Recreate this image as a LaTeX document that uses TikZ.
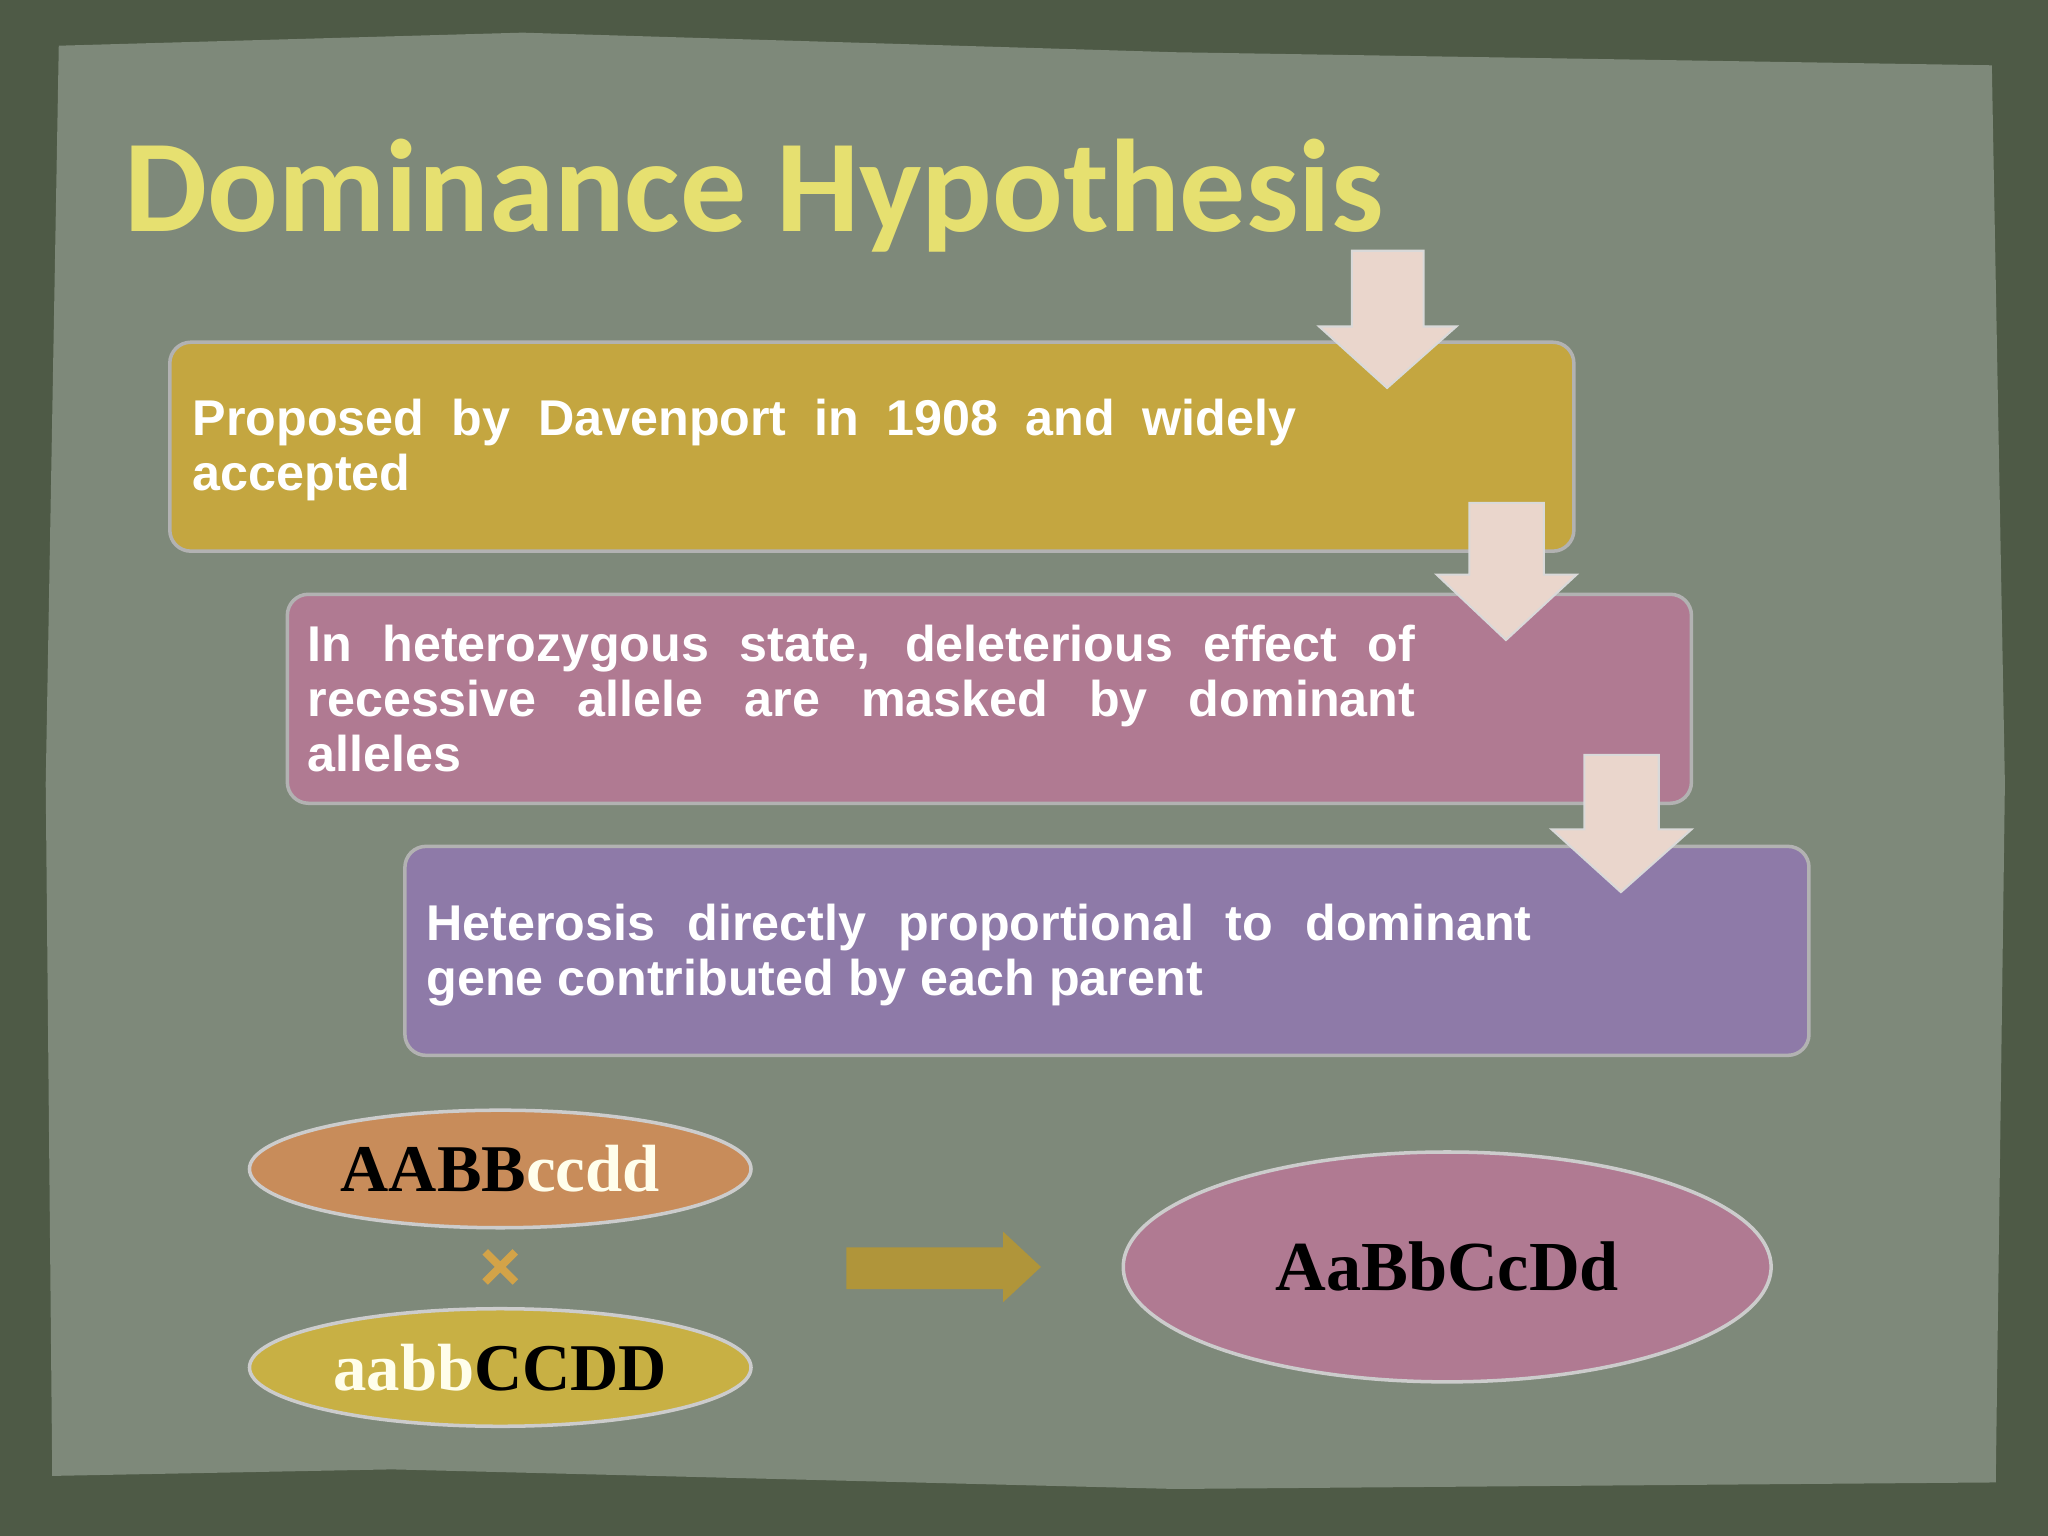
\documentclass[tikz,border=0pt]{standalone}
\usepackage{fontspec}
\setmainfont{Liberation Sans}
\newfontfamily\titlefont{Carlito}
\newfontfamily\serifb{Liberation Serif}
\usetikzlibrary{shapes.geometric}
\definecolor{bgdark}{HTML}{4E5A46}
\definecolor{paper}{HTML}{7E897A}
\definecolor{gold}{HTML}{C4A640}
\definecolor{mauve}{HTML}{B07A92}
\definecolor{purp}{HTML}{8E7AA8}
\definecolor{pale}{HTML}{EAD6CC}
\definecolor{ttl}{HTML}{E6E070}
\definecolor{ovor}{HTML}{C88C5A}
\definecolor{ovgold}{HTML}{C8B044}
\newlength{\px}\setlength{\px}{0.01306cm}
\tikzset{
  stepbox/.style={rounded corners=6pt, draw=white!70!black, line width=1pt},
  btext/.style={text=white, font=\bfseries\fontsize{14.3}{15.6}\selectfont, align=justify, anchor=north west, inner sep=0pt},
  downarr/.style={fill=pale, draw=white!85!black, line width=0.6pt},
  oval/.style={ellipse, draw=white!80!black, line width=1pt, inner sep=0pt, minimum width=384\px, minimum height=90\px, font=\serifb\bfseries\fontsize{19}{22}\selectfont}
}
\begin{document}
\begin{tikzpicture}[x=0.01306cm,y=-0.01306cm]
\useasboundingbox (0,0) rectangle (1568,1176);
\fill[bgdark] (0,0) rectangle (1568,1176);
\fill[paper] (45,35) -- (400,25) -- (900,40) -- (1525,50) -- (1535,600) -- (1528,1135) -- (900,1140) -- (300,1125) -- (40,1130) -- (35,600) -- cycle;
% title
\node[anchor=west, text=ttl, font=\titlefont\bfseries\fontsize{37.5}{40}\selectfont, inner sep=0pt] (title) at (95,150) {Dominance Hypothesis};
% boxes
\draw[stepbox, fill=gold] (130,262) rectangle (1205,422);
\draw[stepbox, fill=mauve] (220,455) rectangle (1295,615);
\draw[stepbox, fill=purp] (310,648) rectangle (1385,808);
\node[btext, text width=845\px] (t1) at (147,305) {Proposed by Davenport in 1908 and widely\linebreak accepted};
\node[btext, text width=848\px] (t2) at (235,478) {In heterozygous state, deleterious effect of\linebreak recessive allele are masked by dominant\linebreak alleles};
\node[btext, text width=846\px] (t3) at (326,692) {Heterosis directly proportional to dominant\linebreak gene contributed by each parent};
% down arrows
\draw[downarr] (1035,192) -- (1090,192) -- (1090,250) -- (1115,250) -- (1062,297) -- (1010,250) -- (1035,250) -- cycle;
\draw[downarr] (1125,385) -- (1182,385) -- (1182,440) -- (1207,440) -- (1153,490) -- (1100,440) -- (1125,440) -- cycle;
\draw[downarr] (1213,578) -- (1270,578) -- (1270,635) -- (1295,635) -- (1241,683) -- (1188,635) -- (1213,635) -- cycle;
% ovals
\node[oval, fill=ovor] (p1) at (383,895) {AABB\textcolor{white!92!yellow}{ccdd}};
\node[oval, fill=ovgold] (p2) at (383,1047) {\textcolor{white!92!yellow}{aabb}CCDD};
\node[inner sep=0pt, minimum size=22\px] (x) at (383,970) {};
\draw[ovor!80!yellow, line width=2.2pt] (x.north west) -- (x.south east) (x.north east) -- (x.south west);
\node[oval, fill=mauve, minimum width=496\px, minimum height=176\px, font=\serifb\bfseries\fontsize{20}{24}\selectfont] (f1) at (1108,970) {AaBbCcDd};
\fill[gold!90!black] (648,955) -- (768,955) -- (768,943) -- (797,970) -- (768,997) -- (768,987) -- (648,987) -- cycle;
\end{tikzpicture}
\end{document}
